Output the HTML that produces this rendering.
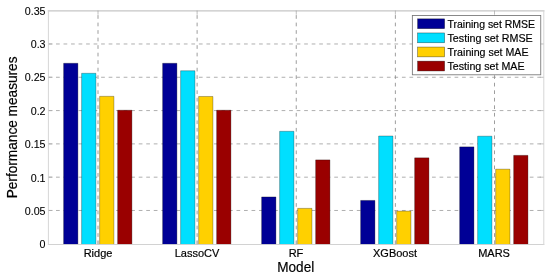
<!DOCTYPE html>
<html><head><meta charset="utf-8"><title>Performance measures</title>
<style>html,body{margin:0;padding:0;background:#fff}svg{display:block}text{font-family:"Liberation Sans",sans-serif;fill:#000;stroke:#000;stroke-width:0.18px}</style></head><body>
<svg width="550" height="280" viewBox="0 0 550 280">
<rect x="0" y="0" width="550" height="280" fill="#fff"/>
<g stroke="#8c8c8c" stroke-width="0.7" stroke-dasharray="3.7 3.82" fill="none"><line x1="48.50" y1="210.48" x2="543.55" y2="210.48"/><line x1="48.50" y1="177.18" x2="543.55" y2="177.18"/><line x1="48.50" y1="143.88" x2="543.55" y2="143.88"/><line x1="48.50" y1="110.58" x2="543.55" y2="110.58"/><line x1="48.50" y1="77.28" x2="543.55" y2="77.28"/><line x1="48.50" y1="43.98" x2="543.55" y2="43.98"/><line x1="98.00" y1="244.40" x2="98.00" y2="10.70" stroke-width="0.85"/><line x1="197.12" y1="244.40" x2="197.12" y2="10.70" stroke-width="0.85"/><line x1="296.25" y1="244.40" x2="296.25" y2="10.70" stroke-width="0.85"/><line x1="395.38" y1="244.40" x2="395.38" y2="10.70" stroke-width="0.85"/><line x1="494.50" y1="244.40" x2="494.50" y2="10.70" stroke-width="0.85"/></g>
<g fill="none" stroke-linecap="square"><line x1="48.4" y1="10.95" x2="543.8" y2="10.95" stroke="#c6c6c6" stroke-width="1.2"/><line x1="48.4" y1="244.5" x2="543.8" y2="244.5" stroke="#d2d2d2" stroke-width="1"/><line x1="48.4" y1="10.95" x2="48.4" y2="244.5" stroke="#d6d6d6" stroke-width="1"/><line x1="543.8" y1="10.95" x2="543.8" y2="244.5" stroke="#d6d6d6" stroke-width="1"/></g>
<g stroke="#b0b0b0" stroke-width="0.8" fill="none"><line x1="48.50" y1="210.48" x2="52.50" y2="210.48"/><line x1="543.55" y1="210.48" x2="539.55" y2="210.48"/><line x1="48.50" y1="177.18" x2="52.50" y2="177.18"/><line x1="543.55" y1="177.18" x2="539.55" y2="177.18"/><line x1="48.50" y1="143.88" x2="52.50" y2="143.88"/><line x1="543.55" y1="143.88" x2="539.55" y2="143.88"/><line x1="48.50" y1="110.58" x2="52.50" y2="110.58"/><line x1="543.55" y1="110.58" x2="539.55" y2="110.58"/><line x1="48.50" y1="77.28" x2="52.50" y2="77.28"/><line x1="543.55" y1="77.28" x2="539.55" y2="77.28"/><line x1="48.50" y1="43.98" x2="52.50" y2="43.98"/><line x1="543.55" y1="43.98" x2="539.55" y2="43.98"/><line x1="98.00" y1="244.40" x2="98.00" y2="240.40"/><line x1="98.00" y1="10.70" x2="98.00" y2="14.70"/><line x1="197.12" y1="244.40" x2="197.12" y2="240.40"/><line x1="197.12" y1="10.70" x2="197.12" y2="14.70"/><line x1="296.25" y1="244.40" x2="296.25" y2="240.40"/><line x1="296.25" y1="10.70" x2="296.25" y2="14.70"/><line x1="395.38" y1="244.40" x2="395.38" y2="240.40"/><line x1="395.38" y1="10.70" x2="395.38" y2="14.70"/><line x1="494.50" y1="244.40" x2="494.50" y2="240.40"/><line x1="494.50" y1="10.70" x2="494.50" y2="14.70"/></g>
<g stroke="none"><rect x="63.60" y="63.28" width="14.30" height="180.77" fill="#000096"/><rect x="81.60" y="73.30" width="14.30" height="170.75" fill="#00DFFF"/><rect x="99.61" y="96.33" width="14.30" height="147.72" fill="#FFD000"/><rect x="117.61" y="110.22" width="14.30" height="133.83" fill="#9A0000"/><rect x="162.61" y="63.28" width="14.30" height="180.77" fill="#000096"/><rect x="180.61" y="70.76" width="14.30" height="173.29" fill="#00DFFF"/><rect x="198.62" y="96.47" width="14.30" height="147.58" fill="#FFD000"/><rect x="216.62" y="110.22" width="14.30" height="133.83" fill="#9A0000"/><rect x="261.62" y="196.96" width="14.30" height="47.09" fill="#000096"/><rect x="279.62" y="131.32" width="14.30" height="112.73" fill="#00DFFF"/><rect x="297.63" y="208.38" width="14.30" height="35.67" fill="#FFD000"/><rect x="315.63" y="159.90" width="14.30" height="84.15" fill="#9A0000"/><rect x="360.63" y="200.43" width="14.30" height="43.62" fill="#000096"/><rect x="378.63" y="136.00" width="14.30" height="108.05" fill="#00DFFF"/><rect x="396.64" y="211.11" width="14.30" height="32.94" fill="#FFD000"/><rect x="414.64" y="157.83" width="14.30" height="86.22" fill="#9A0000"/><rect x="459.64" y="146.88" width="14.30" height="97.17" fill="#000096"/><rect x="477.64" y="136.20" width="14.30" height="107.85" fill="#00DFFF"/><rect x="495.65" y="169.18" width="14.30" height="74.87" fill="#FFD000"/><rect x="513.65" y="155.36" width="14.30" height="88.69" fill="#9A0000"/></g>
<path d="M63.60 244.05V63.28H77.90V244.05M81.60 244.05V73.30H95.90V244.05M99.61 244.05V96.33H113.91V244.05M117.61 244.05V110.22H131.91V244.05M162.61 244.05V63.28H176.91V244.05M180.61 244.05V70.76H194.91V244.05M198.62 244.05V96.47H212.92V244.05M216.62 244.05V110.22H230.92V244.05M261.62 244.05V196.96H275.92V244.05M279.62 244.05V131.32H293.92V244.05M297.63 244.05V208.38H311.93V244.05M315.63 244.05V159.90H329.93V244.05M360.63 244.05V200.43H374.93V244.05M378.63 244.05V136.00H392.93V244.05M396.64 244.05V211.11H410.94V244.05M414.64 244.05V157.83H428.94V244.05M459.64 244.05V146.88H473.94V244.05M477.64 244.05V136.20H491.94V244.05M495.65 244.05V169.18H509.95V244.05M513.65 244.05V155.36H527.95V244.05" fill="none" stroke="#000" stroke-opacity="0.48" stroke-width="0.6"/>
<text x="45.55" y="248.40" font-size="10.7" style="stroke-width:0.1px" text-anchor="end">0</text>
<text x="45.55" y="215.01" font-size="10.7" style="stroke-width:0.1px" text-anchor="end">0.05</text>
<text x="45.55" y="181.63" font-size="10.7" style="stroke-width:0.1px" text-anchor="end">0.1</text>
<text x="45.55" y="148.24" font-size="10.7" style="stroke-width:0.1px" text-anchor="end">0.15</text>
<text x="45.55" y="114.86" font-size="10.7" style="stroke-width:0.1px" text-anchor="end">0.2</text>
<text x="45.55" y="81.47" font-size="10.7" style="stroke-width:0.1px" text-anchor="end">0.25</text>
<text x="45.55" y="48.09" font-size="10.7" style="stroke-width:0.1px" text-anchor="end">0.3</text>
<text x="45.55" y="14.70" font-size="10.7" style="stroke-width:0.1px" text-anchor="end">0.35</text>
<text x="98.00" y="256.7" font-size="11.0" text-anchor="middle">Ridge</text>
<text x="197.01" y="256.7" font-size="11.0" text-anchor="middle">LassoCV</text>
<text x="296.02" y="256.7" font-size="11.0" text-anchor="middle">RF</text>
<text x="395.03" y="256.7" font-size="11.0" text-anchor="middle">XGBoost</text>
<text x="494.04" y="256.7" font-size="11.0" text-anchor="middle">MARS</text>
<text transform="translate(295.72 272.1) scale(0.957 1)" font-size="14.2" text-anchor="middle">Model</text>
<text transform="translate(17.3 127.40) rotate(-90) scale(0.962 1)" font-size="14.2" text-anchor="middle">Performance measures</text>
<rect x="412.35" y="15.5" width="128.4" height="59.3" fill="#fff" stroke="#747474" stroke-width="0.85"/>
<rect x="417.6" y="18.85" width="27.0" height="9.8" fill="#000096" stroke="#000" stroke-opacity="0.55" stroke-width="0.6"/>
<text transform="translate(447.5 28.00) scale(0.954 1)" font-size="11.0">Training set RMSE</text>
<rect x="417.6" y="32.95" width="27.0" height="9.8" fill="#00DFFF" stroke="#000" stroke-opacity="0.55" stroke-width="0.6"/>
<text transform="translate(447.5 42.10) scale(0.976 1)" font-size="11.0">Testing set RMSE</text>
<rect x="417.6" y="47.05" width="27.0" height="9.8" fill="#FFD000" stroke="#000" stroke-opacity="0.55" stroke-width="0.6"/>
<text transform="translate(447.5 56.20) scale(0.966 1)" font-size="11.0">Training set MAE</text>
<rect x="417.6" y="61.15" width="27.0" height="9.8" fill="#9A0000" stroke="#000" stroke-opacity="0.55" stroke-width="0.6"/>
<text transform="translate(447.5 70.30) scale(0.971 1)" font-size="11.0">Testing set MAE</text>
</svg></body></html>
